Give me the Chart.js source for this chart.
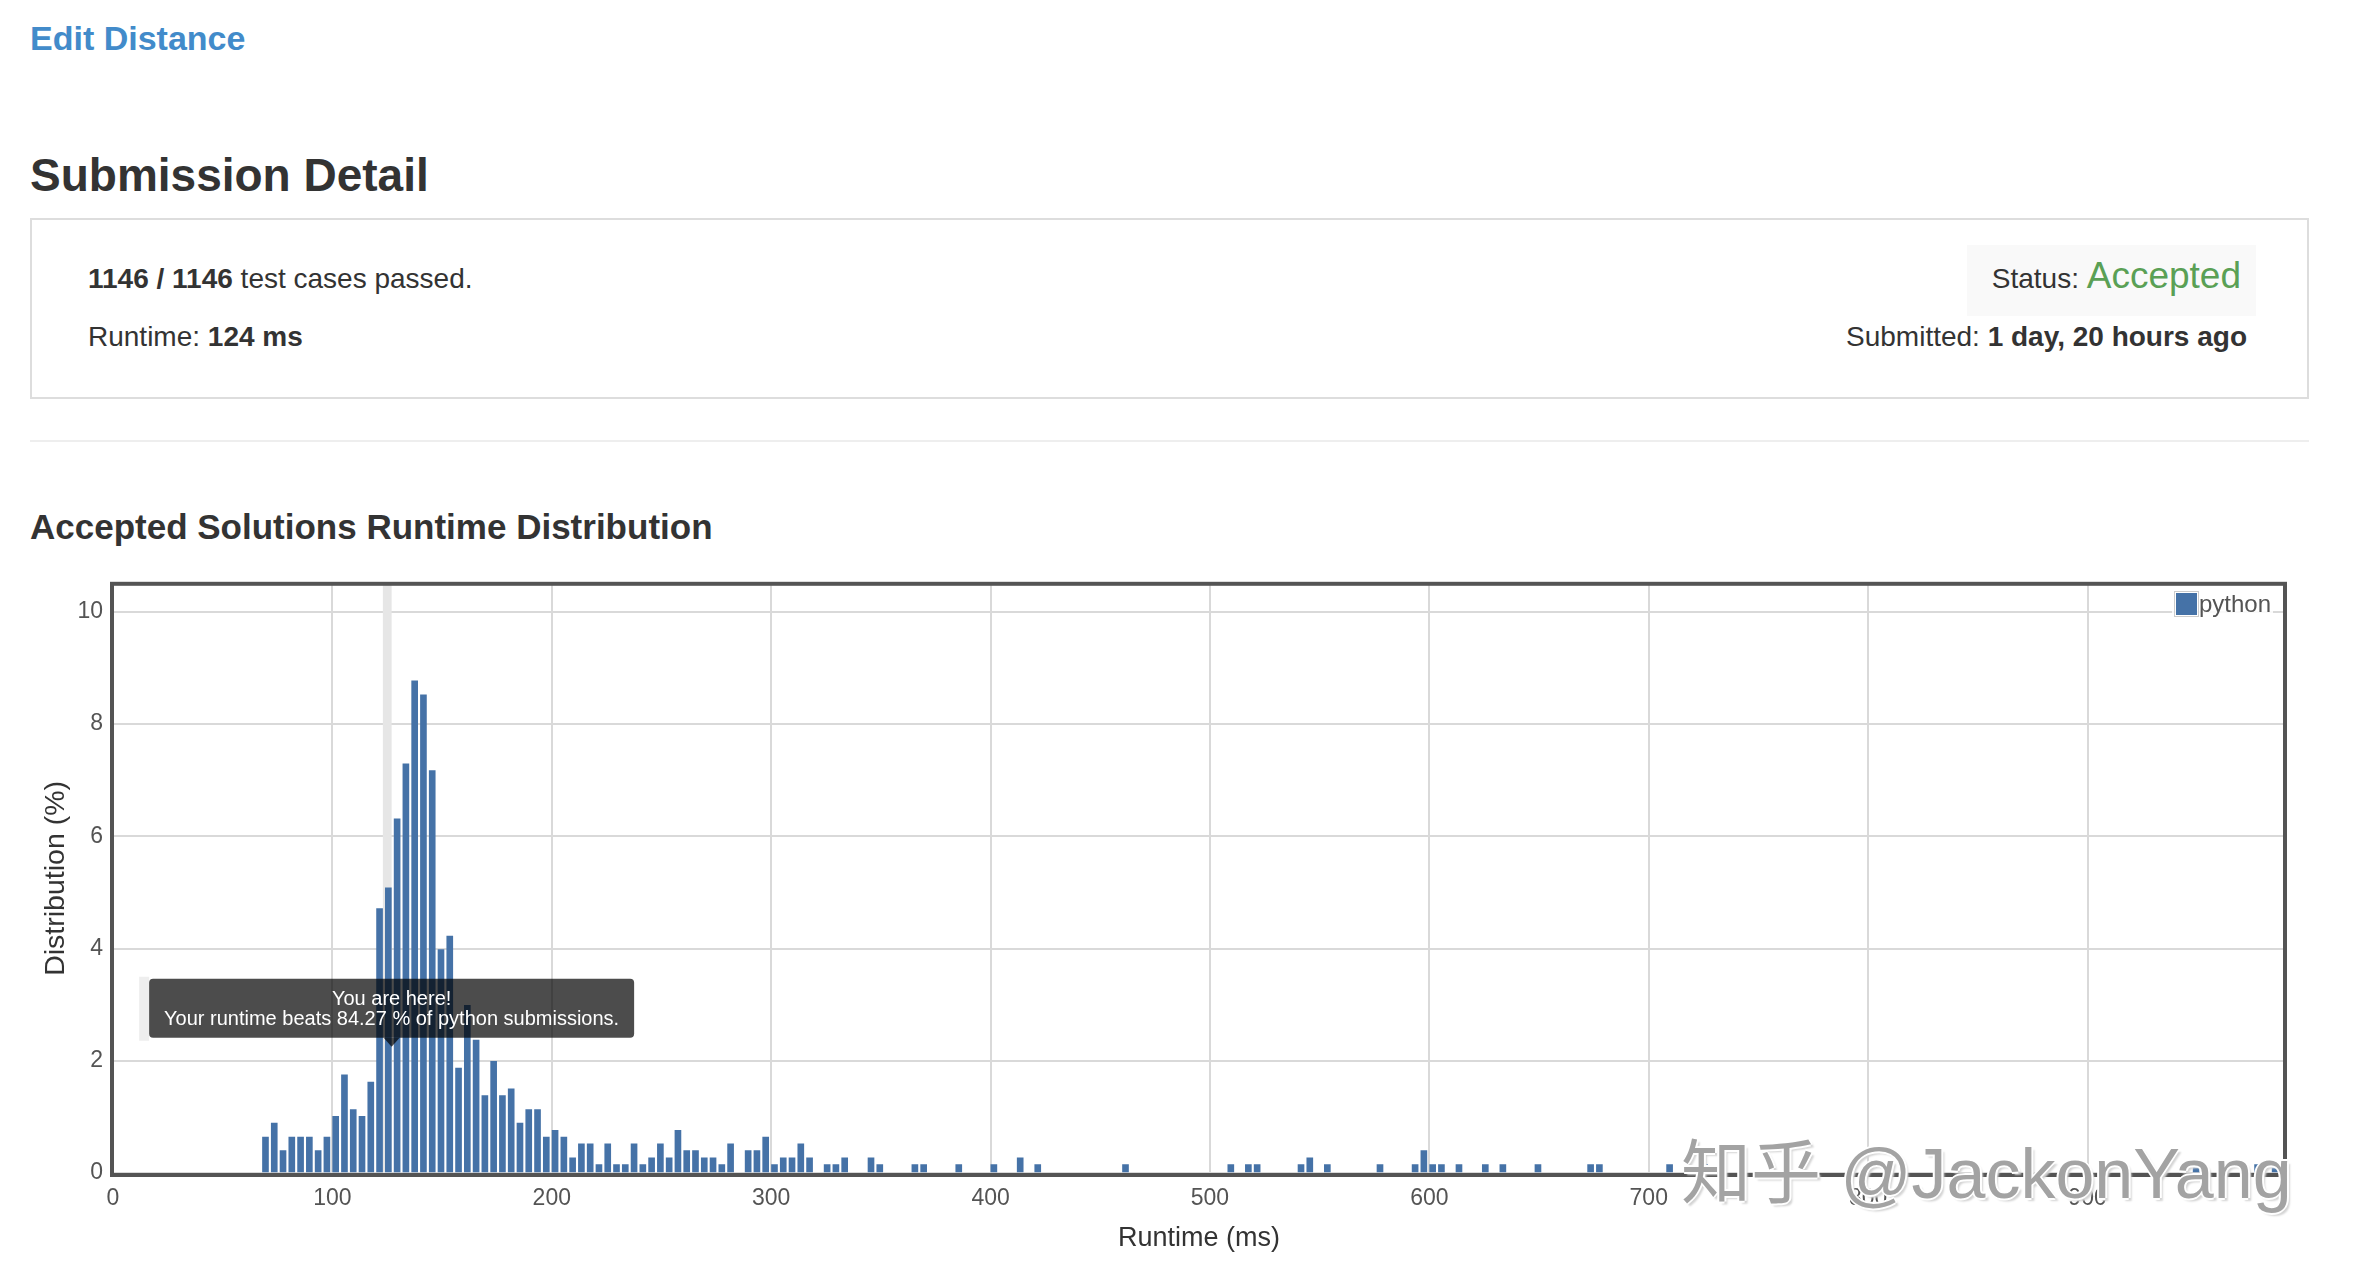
<!DOCTYPE html>
<html>
<head>
<meta charset="utf-8">
<title>Submission Detail</title>
<script src="https://cdn.jsdelivr.net/npm/chart.js@4.4.1/dist/chart.umd.min.js"></script>
<style>
  body { margin: 0; width: 2358px; height: 1280px; position: relative; overflow: hidden;
         background: #fff; color: #333; font-family: "Liberation Sans", Arial, sans-serif; }
  .abs { position: absolute; line-height: 1; white-space: nowrap; }
  #problem { left: 30px; top: 21px; font-size: 34px; font-weight: bold; color: #428bca; }
  #heading { left: 30px; top: 152px; font-size: 46px; font-weight: bold; }
  #result-box { position: absolute; left: 30px; top: 218px; width: 2279px; height: 181px;
                box-sizing: border-box; border: 2px solid #ddd; }
  .line { font-size: 28px; }
  #cases { left: 88px; top: 265px; }
  #runtime { left: 88px; top: 323px; }
  #status-bg { position: absolute; left: 1967px; top: 245px; width: 289px; height: 71px; background: #f9f9f9; }
  #status { right: 117px; top: 258px; line-height: 36px; }
  #status .ok { font-size: 37px; color: #5aa055; }
  #submitted { right: 111px; top: 323px; }
  #divider { position: absolute; left: 30px; top: 440px; width: 2279px; height: 2px; background: #eee; }
  #chart-title { left: 30px; top: 509px; font-size: 35px; font-weight: bold; }
  #chart-box { position: absolute; left: 0; top: 560px; width: 2358px; height: 700px; }
  #legend { left: 2172px; top: 591px; display: flex; align-items: center; padding: 0 2px;
            background: rgba(255,255,255,0.85); font-size: 24px; color: #545454; }
  #legend .swatch { width: 21px; height: 22px; border: 1px solid #ccc; padding: 1px; }
  #legend .swatch div { width: 100%; height: 100%; background: #4572a7; }
  #watermark { left: 1681px; top: 1139px; font-size: 70px; color: #a3a3a3;
               font-family: "Liberation Sans", "Noto Sans CJK SC", sans-serif;
               text-shadow: -2px 0 #fff, 2px 0 #fff, 0 -2px #fff, 0 2px #fff, 3px 3px 2px #d4d4d4; }
</style>
</head>
<body>
<div class="abs" id="problem">Edit Distance</div>
<div class="abs" id="heading">Submission Detail</div>
<div id="result-box"></div>
<div class="abs line" id="cases"><b>1146 / 1146</b> test cases passed.</div>
<div class="abs line" id="runtime">Runtime: <b>124 ms</b></div>
<div id="status-bg"></div>
<div class="abs line" id="status">Status: <span class="ok">Accepted</span></div>
<div class="abs line" id="submitted">Submitted: <b>1 day, 20 hours ago</b></div>
<div id="divider"></div>
<div class="abs" id="chart-title">Accepted Solutions Runtime Distribution</div>
<div id="chart-box"><canvas id="chart"></canvas></div>
<div class="abs" id="legend"><div class="swatch"><div></div></div>python</div>
<div class="abs" id="watermark">知乎 @JackonYang</div>

<script>
// runtime bins (ms) that have accepted submissions, and their share (%)
const RUNTIME_BINS = [
  68, 72, 76, 80, 84, 88, 92, 96, 100, 104, 108, 112, 116, 120, 124, 128, 132, 136, 140, 144,
  148, 152, 156, 160, 164, 168, 172, 176, 180, 184, 188, 192, 196, 200, 204, 208, 212, 216, 220, 224,
  228, 232, 236, 240, 244, 248, 252, 256, 260, 264, 268, 272, 276, 280, 288, 292, 296, 300, 304, 308,
  312, 316, 324, 328, 332, 344, 348, 364, 368, 384, 400, 412, 420, 460, 508, 516, 520, 540, 544, 552,
  576, 592, 596, 600, 604, 612, 624, 632, 648, 672, 676, 708, 724, 948, 976, 984
];
const DISTRIBUTION = [
  0.64, 0.89, 0.40, 0.64, 0.64, 0.64, 0.40, 0.64, 1.01, 1.75, 1.13, 1.01, 1.62, 4.71, 5.08, 6.31, 7.29, 8.77, 8.52, 7.17,
  3.98, 4.22, 1.87, 2.99, 2.37, 1.38, 1.99, 1.38, 1.50, 0.89, 1.13, 1.13, 0.64, 0.76, 0.64, 0.27, 0.52, 0.52, 0.15, 0.52,
  0.15, 0.15, 0.52, 0.15, 0.27, 0.52, 0.27, 0.76, 0.40, 0.40, 0.27, 0.27, 0.15, 0.52, 0.40, 0.40, 0.64, 0.15, 0.27, 0.27,
  0.52, 0.27, 0.15, 0.15, 0.27, 0.27, 0.15, 0.15, 0.15, 0.15, 0.15, 0.27, 0.15, 0.15, 0.15, 0.15, 0.15, 0.15, 0.27, 0.15,
  0.15, 0.15, 0.40, 0.15, 0.15, 0.15, 0.15, 0.15, 0.15, 0.15, 0.15, 0.15, 0.15, 0.15, 0.15, 0.15
];
const X_TICKS = [0, 100, 200, 300, 400, 500, 600, 700, 800, 900];
const Y_TICKS = [0, 2, 4, 6, 8, 10];
const X_MAX = 990;
const Y_MAX = 10.5;
const YOUR_RUNTIME = 124;
const TOOLTIP_LINES = ['You are here!', 'Your runtime beats 84.27 % of python submissions.'];
const TOOLTIP_LEVEL = 2.25; // y value (%) where the tooltip arrow points

const BAR_COLOR = '#4572a7';
const BIN_WIDTH = 4;    // ms per bin
const BAR_SHIFT = 1.5;  // bars start at the bin value, so centre them a bit right

Chart.defaults.font.family = "'Liberation Sans', Arial, sans-serif";

// grey band behind "your" bin, the dark plot frame, and the fixed tooltip
const youAreHere = {
  id: 'youAreHere',
  beforeDatasetsDraw(chart) {
    const { ctx, chartArea: a, scales: { x } } = chart;
    const l = x.getPixelForValue(YOUR_RUNTIME - 1);
    const r = x.getPixelForValue(YOUR_RUNTIME - 1 + BIN_WIDTH);
    ctx.save();
    ctx.fillStyle = '#e6e6e6';
    ctx.fillRect(l, a.top, r - l, a.bottom - a.top);
    ctx.restore();
  },
  afterDatasetsDraw(chart) {
    const { ctx, chartArea: a, scales: { x, y } } = chart;
    ctx.save();
    ctx.strokeStyle = '#545454';
    ctx.lineWidth = 4;
    ctx.strokeRect(a.left - 1, a.top, a.right - a.left + 1, a.bottom - a.top + 2);

    const tipX = x.getPixelForValue(YOUR_RUNTIME - 1 + BIN_WIDTH);
    const tipY = y.getPixelForValue(TOOLTIP_LEVEL);
    const w = 485, h = 59, arrow = 9;
    const bx = tipX - w / 2, by = tipY - arrow - h;
    ctx.fillStyle = '#eeeeee';
    ctx.fillRect(bx - 10, by - 2, 10, h + 5);
    ctx.fillStyle = 'rgba(0, 0, 0, 0.7)';
    ctx.beginPath();
    ctx.roundRect(bx, by, w, h, 4);
    ctx.fill();
    ctx.beginPath();
    ctx.moveTo(tipX - 8, by + h);
    ctx.lineTo(tipX + 8, by + h);
    ctx.lineTo(tipX, tipY);
    ctx.closePath();
    ctx.fill();
    ctx.fillStyle = '#fff';
    ctx.font = "20px 'Liberation Sans', Arial, sans-serif";
    ctx.textAlign = 'center';
    ctx.textBaseline = 'middle';
    ctx.fillText(TOOLTIP_LINES[0], tipX, by + 21);
    ctx.fillText(TOOLTIP_LINES[1], tipX, by + 41);
    ctx.restore();
  }
};

const points = RUNTIME_BINS.map((r, i) => ({ x: r + BAR_SHIFT, y: DISTRIBUTION[i] }));

new Chart(document.getElementById('chart'), {
  type: 'bar',
  data: {
    datasets: [{
      label: 'python',
      data: points,
      backgroundColor: BAR_COLOR,
      borderWidth: 0,
      barThickness: 6
    }]
  },
  plugins: [youAreHere],
  options: {
    animation: false,
    responsive: true,
    maintainAspectRatio: false,
    events: [],
    layout: { padding: { top: 18, right: 73, left: 0, bottom: 0 } },
    plugins: { legend: { display: false }, tooltip: { enabled: false } },
    scales: {
      x: {
        type: 'linear',
        offset: false,
        min: 0,
        max: X_MAX,
        afterFit: (scale) => { scale.height = 87; },
        afterBuildTicks: (scale) => { scale.ticks = X_TICKS.map(v => ({ value: v })); },
        grid: { color: '#d9d9d9', lineWidth: 2, drawTicks: false, offset: false },
        border: { display: false },
        ticks: { color: '#545454', font: { size: 23 }, padding: 12, maxRotation: 0 },
        title: { display: true, text: 'Runtime (ms)', color: '#333', font: { size: 27 },
                 padding: { top: 0, bottom: 5 } }
      },
      y: {
        min: 0,
        max: Y_MAX,
        afterFit: (scale) => { scale.width = 113; },
        afterBuildTicks: (scale) => { scale.ticks = Y_TICKS.map(v => ({ value: v })); },
        grid: { color: '#d9d9d9', lineWidth: 2, drawTicks: false },
        border: { display: false },
        ticks: { color: '#545454', font: { size: 23 }, padding: 10 },
        title: { display: true, text: 'Distribution (%)', color: '#333', font: { size: 28.5 },
                 padding: { top: 39, bottom: 0 } }
      }
    }
  }
});
</script>
</body>
</html>
